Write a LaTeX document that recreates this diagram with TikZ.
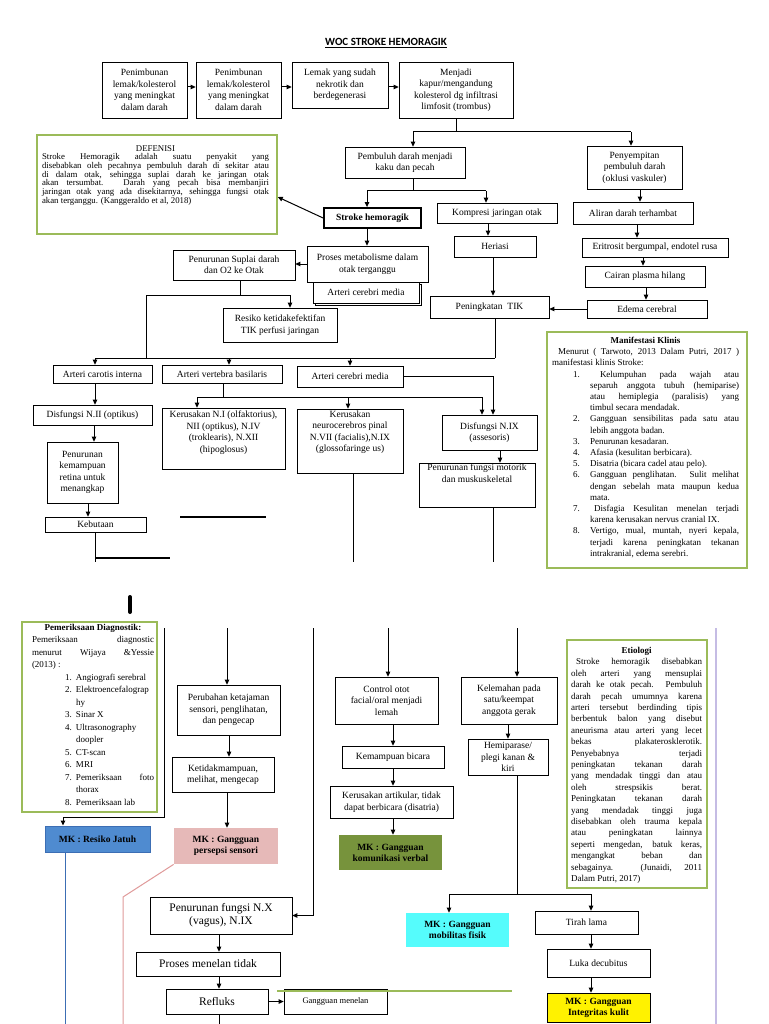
\documentclass[tikz,border=0pt]{standalone}
\usepackage{fontspec}
\setmainfont{Liberation Serif}
\newfontfamily\titlefont{Carlito}
\usetikzlibrary{arrows.meta,calc,shadows}
\definecolor{grn}{HTML}{9BBB59}
\definecolor{pinkf}{HTML}{E6B9B8}
\definecolor{olivf}{HTML}{77933C}
\definecolor{cyanf}{HTML}{55FCFC}
\definecolor{bluef}{HTML}{4F8BD0}
\definecolor{blued}{HTML}{3C6EB4}
\definecolor{purp}{HTML}{C5BCE4}
\definecolor{pinkl}{HTML}{E09A9A}
\tikzset{
 box/.style={draw, line width=0.7pt, align=center, inner sep=1pt, fill=white, font=\fontsize{9.5}{11.5}\selectfont},
 ln/.style={line width=1pt},
 arr/.style={line width=1pt, -{Triangle[length=5pt,width=4.5pt]}},
 gbox/.style={draw=grn, line width=1.5pt},
 mk/.style={draw=none, font=\bfseries\fontsize{9.5}{11}\selectfont},
 big/.style={font=\fontsize{11.5}{13}\selectfont},
 jt/.style={align=justify, inner sep=0pt, anchor=north},
}
\newcommand\bx[7][]{\node[box,minimum width={(#5-#3)*1pt},minimum height={(#6-#4)*1pt},#1] (#2) at ({(#3+#5)/2},{(#4+#6)/2}) {#7};}
\newcommand\jtext{\tolerance=10000\hyphenpenalty=10000\exhyphenpenalty=10000}
\newcommand\li[4]{\par\hangindent=#2\hangafter=1\noindent\hspace*{#1}\makebox[\dimexpr#2-#1\relax][l]{#3}#4\par}
\begin{document}
\begin{tikzpicture}[x=1pt,y=-1pt]
\fill[white] (0,0) rectangle (768,1024);
\useasboundingbox (0,0) rectangle (768,1024);

\node[font=\titlefont\bfseries\fontsize{11}{13}\selectfont] (title) at (386,43) {\underline{WOC STROKE HEMORAGIK}};

% ---------- page 1 ----------
\bx{b1}{102}{62}{187}{118}{Penimbunan\\lemak/kolesterol\\yang meningkat\\dalam darah}
\bx{b2}{196}{62}{281}{118}{Penimbunan\\lemak/kolesterol\\yang meningkat\\dalam darah}
\bx{b3}{292}{62}{388}{108}{Lemak yang sudah\\nekrotik dan\\berdegenerasi}
\bx{b4}{399}{62}{513}{118}{Menjadi\\kapur/mengandung\\kolesterol dg infiltrasi\\limfosit (trombus)}

\bx{pem}{345}{147}{465}{178}{Pembuluh darah menjadi\\kaku dan pecah}
\bx{peny}{587}{146}{682}{189}{Penyempitan\\pembuluh darah\\(oklusi vaskuler)}
\bx[line width=1.8pt, font=\bfseries\fontsize{9.5}{11}\selectfont]{stroke}{324}{208}{421}{228}{Stroke hemoragik}
\bx{komp}{437}{203}{557}{223}{Kompresi jaringan otak}
\bx{heri}{454}{236}{536}{257}{Heriasi}
\bx{tik}{430}{296}{549}{318}{Peningkatan\ \ TIK}
\bx{alir}{573}{202}{693}{224}{Aliran darah terhambat}
\bx{erit}{582}{238}{728}{257}{Eritrosit bergumpal, endotel rusa}
\bx{cair}{585}{266}{705}{287}{Cairan plasma hilang}
\bx{edema}{587}{300}{707}{318}{Edema cerebral}
\bx[copy shadow={shadow xshift=2pt, shadow yshift=-2pt}]{acm1}{313}{282}{419}{303}{Arteri cerebri media}
\bx{proses}{307}{246}{428}{282}{Proses metabolisme dalam\\otak terganggu}

\bx[gbox]{defn}{37}{135}{277}{234}{}
\node[jt, text width=227pt, font=\fontsize{8.8}{8.7}\selectfont] (defntxt) at (155.5,145) {\jtext
{\centering DEFENISI\par}
Stroke Hemoragik adalah suatu penyakit yang\linebreak
disebabkan oleh pecahnya pembuluh darah di sekitar atau\linebreak
di dalam otak, sehingga suplai darah ke jaringan otak\linebreak
akan tersumbat. Darah yang pecah bisa membanjiri\linebreak
jaringan otak yang ada disekitarnya, sehingga fungsi otak\linebreak
akan terganggu. (Kanggeraldo et al, 2018)};

\bx{pen}{173}{250}{295}{280}{Penurunan Suplai darah\\dan O2 ke Otak}
\bx{res}{223}{308}{337}{342}{Resiko ketidakefektifan\\TIK perfusi jaringan}
\bx{aci}{53}{365}{152}{383}{Arteri carotis interna}
\bx{avb}{162}{365}{282}{383}{Arteri vertebra basilaris}
\bx{acm2}{297}{366}{403}{387}{Arteri cerebri media}
\bx{dn2}{33}{405}{152}{425}{Disfungsi N.II (optikus)}
\bx{ret}{47}{442}{118}{503}{Penurunan\\kemampuan\\retina untuk\\menangkap}
\bx{keb}{45}{517}{146}{532}{Kebutaan}
\bx{kn1}{162}{408}{285}{469}{Kerusakan N.I (olfaktorius),\\NII (optikus), N.IV\\(troklearis), N.XII\\(hipoglosus)\\[2pt]}
\bx{kns}{297}{409}{403}{473}{Kerusakan\\neurocerebros pinal\\N.VII (facialis),N.IX\\(glossofaringe us)\\[8pt]}
\bx{dn9}{442}{415}{537}{450}{Disfungsi N.IX\\(assesoris)}
\bx{pfm}{419}{463}{535}{507}{Penurunan fungsi motorik\\dan muskuskeletal\\[12pt]}

\bx[gbox]{mani}{547}{332}{747}{568}{}
\node[jt, text width=187pt, font=\fontsize{9}{11.2}\selectfont] (manitxt) at (645.5,337) {\jtext
{\centering\bfseries Manifestasi Klinis\par}
\hspace*{6pt}Menurut ( Tarwoto, 2013 Dalam Putri, 2017 )\linebreak
manifestasi klinis Stroke:\par
\li{21pt}{38pt}{1.}{\hspace*{10pt}Kelumpuhan pada wajah atau\linebreak separuh anggota tubuh (hemiparise)\linebreak atau hemiplegia (paralisis) yang\linebreak timbul secara mendadak.}
\li{21pt}{38pt}{2.}{Gangguan sensibilitas pada satu atau\linebreak lebih anggota badan.}
\li{21pt}{38pt}{3.}{Penurunan kesadaran.}
\li{21pt}{38pt}{4.}{Afasia (kesulitan berbicara).}
\li{21pt}{38pt}{5.}{Disatria (bicara cadel atau pelo).}
\li{21pt}{38pt}{6.}{Gangguan penglihatan. Sulit melihat\linebreak dengan sebelah mata maupun kedua\linebreak mata.}
\li{21pt}{38pt}{7.}{\hspace*{4pt}Disfagia Kesulitan menelan terjadi\linebreak karena kerusakan nervus cranial IX.}
\li{21pt}{38pt}{8.}{Vertigo, mual, muntah, nyeri kepala,\linebreak terjadi karena peningkatan tekanan\linebreak intrakranial, edema serebri.}};

% connectors page 1
\coordinate (r1) at (0,87);
\draw[arr] (b1.east|-r1) -- (b2.west|-r1);
\draw[arr] (b2.east|-r1) -- (b3.west|-r1);
\draw[arr] (b3.east|-r1) -- (b4.west|-r1);
\coordinate (j1a) at (413,132); \coordinate (j1b) at (631,132);
\draw[ln] (b4.south) -- (b4.south|-j1a);
\draw[ln] (j1a) -- (j1b);
\draw[arr] (j1a) -- (j1a|-pem.north);
\draw[arr] (j1b) -- (j1b|-peny.north);
\coordinate (j2a) at (367,191); \coordinate (j2b) at (486,191);
\draw[ln] (j1a|-pem.south) -- (j1a|-j2a);
\draw[ln] (j2a) -- (j2b);
\draw[arr] (j2a) -- (j2a|-stroke.north);
\draw[arr] (j2b) -- (j2b|-komp.north);
\draw[arr] (stroke.west) -- ([yshift=-12.5pt]defn.east);
\draw[arr] (j2a|-stroke.south) -- (j2a|-proses.north);
\coordinate (xk) at (488,0); \draw[arr] (xk|-komp.south) -- (xk|-heri.north);
\coordinate (xh) at (493,0); \draw[arr] (xh|-heri.south) -- (xh|-tik.north);
\coordinate (xp) at (640,0); \draw[arr] (xp|-peny.south) -- (xp|-alir.north);
\coordinate (xa) at (637,0); \draw[arr] (xa|-alir.south) -- (xa|-erit.north);
\coordinate (xe) at (643,0); \draw[arr] (xe|-erit.south) -- (xe|-cair.north);
\coordinate (xc) at (646,0); \draw[arr] (xc|-cair.south) -- (xc|-edema.north);
\draw[arr] (edema.west) -- (edema.west-|tik.east);
\draw[arr] (proses.west) -- (proses.west-|pen.east);
\coordinate (j3a) at (146,295); \coordinate (j3b) at (290,295); \coordinate (xpn) at (240,0);
\draw[ln] (xpn|-pen.south) -- (xpn|-j3a);
\draw[ln] (j3a) -- (j3b);
\draw[arr] (j3b) -- (j3b|-res.north);
\coordinate (j4a) at (95,358); \coordinate (j4b) at (229,358); \coordinate (j4c) at (350,358); \coordinate (j4d) at (495,358);
\draw[ln] (j3a) -- (j3a|-j4a);
\draw[ln] (j4a) -- (j4d);
\draw[ln] (j4d|-tik.south) -- (j4d);
\draw[arr] (j4a) -- (j4a|-aci.north);
\draw[arr] (j4b) -- (j4b|-avb.north);
\draw[arr] (j4c) -- (j4c|-acm2.north);
\draw[arr] (j4a|-aci.south) -- (j4a|-dn2.north);
\coordinate (x94) at (94,0); \draw[arr] (x94|-dn2.south) -- (x94|-ret.north);
\coordinate (x88) at (88,0); \draw[arr] (x88|-ret.south) -- (x88|-keb.north);
\coordinate (kb) at (95,562); \draw[ln] (j4a|-keb.south) -- (kb);
\coordinate (kh) at (170,558); \draw[ln, line width=1.5pt] (j4a|-kh) -- (kh);
\coordinate (j5a) at (197,397); \coordinate (j5b) at (348,397); \coordinate (j5c) at (482,397); \coordinate (x223) at (223,0);
\draw[ln] (x223|-avb.south) -- (x223|-j5a);
\draw[ln] (j5a) -- (j5c);
\draw[arr] (j5a) -- (j5a|-kn1.north);
\draw[arr] (j5b) -- (j5b|-kns.north);
\draw[arr] (j5c) -- (j5c|-dn9.north);
\coordinate (x493) at (493,0);
\draw[arr] (acm2.east) -| (x493|-dn9.north);
\coordinate (x500) at (500,0); \draw[arr] (x500|-dn9.south) -- (x500|-pfm.north);
\coordinate (x353) at (353,0); \draw[ln] (x353|-kns.south) -- (x353|-kb);
\draw[ln] (x493|-pfm.south) -- (x493|-kb);
\coordinate (s1) at (180,517); \coordinate (s2) at (266,517);
\draw[line width=2pt] (s1) -- (s2);

% ---------- page 2 ----------
\coordinate (m1) at (130,597); \coordinate (m2) at (130,612);
\draw[line width=4pt, line cap=round] (m1) -- (m2);

\bx[gbox]{pd}{22}{622}{157}{812}{}
\node[jt, text width=122pt, font=\fontsize{9}{12.5}\selectfont] (pdtxt) at (93,624) {\jtext
{\centering\bfseries Pemeriksaan Diagnostik:\par}
Pemeriksaan diagnostic\linebreak
menurut Wijaya \&Yessie\linebreak
(2013) :\par
\li{33pt}{44pt}{1.}{Angiografi serebral}
\li{33pt}{44pt}{2.}{Elektroencefalograp\newline hy}
\li{33pt}{44pt}{3.}{Sinar X}
\li{33pt}{44pt}{4.}{Ultrasonography\newline doopler}
\li{33pt}{44pt}{5.}{CT-scan}
\li{33pt}{44pt}{6.}{MRI}
\li{33pt}{44pt}{7.}{Pemeriksaan foto\linebreak thorax}
\li{33pt}{44pt}{8.}{Pemeriksaan lab}};

\bx[mk, fill=bluef, draw=blued, line width=1pt]{mkrj}{45}{826}{150}{852}{MK : Resiko Jatuh}
\bx{per}{177}{685}{280}{735}{Perubahan ketajaman\\sensori, penglihatan,\\dan pengecap}
\bx{ket}{172}{757}{274}{792}{Ketidakmampuan,\\melihat, mengecap}
\bx[mk, fill=pinkf]{mkps}{174}{828}{278}{864}{MK : Gangguan\\persepsi sensori}
\bx{ctl}{335}{677}{438}{724}{Control otot\\facial/oral menjadi\\lemah}
\bx{kmb}{342}{746}{444}{768}{Kemampuan bicara}
\bx{kart}{330}{786}{453}{818}{Kerusakan artikular, tidak\\dapat berbicara (disatria)}
\bx[mk, fill=olivf]{mkkv}{339}{835}{442}{870}{MK : Gangguan\\komunikasi verbal}
\bx{kel}{461}{677}{557}{724}{Kelemahan pada\\satu/keempat\\anggota gerak}
\bx{hem}{468}{739}{548}{775}{Hemiparase/\\plegi kanan \&\\kiri}

\bx[gbox]{eti}{567}{640}{707}{888}{}
\node[jt, text width=131pt, font=\fontsize{9}{11.4}\selectfont] (etitxt) at (636.5,647) {\jtext
{\centering\bfseries Etiologi\par}
\hspace*{5pt}Stroke hemoragik disebabkan\linebreak
oleh arteri yang mensuplai\linebreak
darah ke otak pecah. Pembuluh\linebreak
darah pecah umumnya karena\linebreak
arteri tersebut berdinding tipis\linebreak
berbentuk balon yang disebut\linebreak
aneurisma atau arteri yang lecet\linebreak
bekas plakaterosklerotik.\linebreak
Penyebabnya terjadi\linebreak
peningkatan tekanan darah\linebreak
yang mendadak tinggi dan atau\linebreak
oleh strespsikis berat.\linebreak
Peningkatan tekanan darah\linebreak
yang mendadak tinggi juga\linebreak
disebabkan oleh trauma kepala\linebreak
atau peningkatan lainnya\linebreak
seperti mengedan, batuk keras,\linebreak
mengangkat beban dan\linebreak
sebagainya. (Junaidi, 2011\linebreak
Dalam Putri, 2017)};

\bx[big]{pnx}{150}{897}{292}{934}{Penurunan fungsi N.X\\(vagus), N.IX}
\bx[big]{pmt}{136}{952}{280}{976}{Proses menelan tidak}
\bx[big]{ref}{166}{989}{268}{1014}{Refluks}
\bx[font=\fontsize{8.5}{10}\selectfont]{gm}{284}{989}{387}{1014}{Gangguan menelan}
\bx[mk, fill=cyanf]{mkmf}{406}{913}{509}{947}{MK : Gangguan\\mobilitas fisik}
\bx{tirah}{535}{911}{638}{934}{Tirah lama}
\bx{luka}{547}{949}{650}{977}{Luka decubitus}
\bx[mk, fill=yellow, draw=black, line width=0.7pt]{mkik}{547}{993}{650}{1022}{MK : Gangguan\\Integritas kulit}

% connectors page 2
\coordinate (t1) at (164,628); \coordinate (k1) at (164,817); \coordinate (x63) at (63,0);
\draw[arr] (t1) -- (k1) -- (x63|-k1) -- (x63|-mkrj.north);
\coordinate (t2) at (227,628); \coordinate (x229) at (229,0);
\draw[arr] (t2) -- (t2|-per.north);
\draw[arr] (x229|-per.south) -- (x229|-ket.north);
\draw[arr] (t2|-ket.south) -- (t2|-mkps.north);
\coordinate (t3) at (313,628);
\draw[arr] (t3) |- (pnx.east);
\coordinate (t4) at (388,628); \coordinate (x393) at (393,0);
\draw[arr] (t4) -- (t4|-ctl.north);
\draw[arr] (x393|-ctl.south) -- (x393|-kmb.north);
\draw[arr] (x393|-kmb.south) -- (x393|-kart.north);
\draw[arr] (x393|-kart.south) -- (x393|-mkkv.north);
\coordinate (t5) at (517,628); \coordinate (x508) at (508,0);
\draw[arr] (t5) -- (t5|-kel.north);
\draw[arr] (x508|-kel.south) -- (x508|-hem.north);
\coordinate (j6a) at (449,894); \coordinate (j6b) at (591,894);
\draw[ln] (t5|-hem.south) -- (t5|-j6a);
\draw[ln] (j6a) -- (j6b);
\draw[arr] (j6a) -- (j6a|-mkmf.north);
\draw[arr] (j6b) -- (j6b|-tirah.north);
\draw[arr] (j6b|-tirah.south) -- (j6b|-luka.north);
\draw[arr] (j6b|-luka.south) -- (j6b|-mkik.north);
\coordinate (x219) at (219,0); \coordinate (bot219) at (219,1024);
\draw[arr] (x219|-pnx.south) -- (x219|-pmt.north);
\draw[arr] (x219|-pmt.south) -- (x219|-ref.north);
\draw[ln] (x219|-ref.south) -- (bot219);
\draw[arr] (ref.east) -- (ref.east-|gm.west);
\coordinate (x65) at (65,0); \coordinate (bot65) at (65,1024);
\draw[blued, line width=1pt] (x65|-mkrj.south) -- (bot65);
\coordinate (pk1) at (123,897); \coordinate (pk2) at (123,1024);
\draw[pinkl, line width=1pt] (mkps.south west) -- (pk1) -- (pk2);
\coordinate (g1) at (277,991); \coordinate (g2) at (512,991);
\draw[grn, line width=1.2pt] (g1) -- (g2);
\coordinate (p1) at (716,628); \coordinate (p2) at (716,1024);
\draw[purp, line width=2.5pt] (p1) -- (p2);
\end{tikzpicture}
\end{document}
